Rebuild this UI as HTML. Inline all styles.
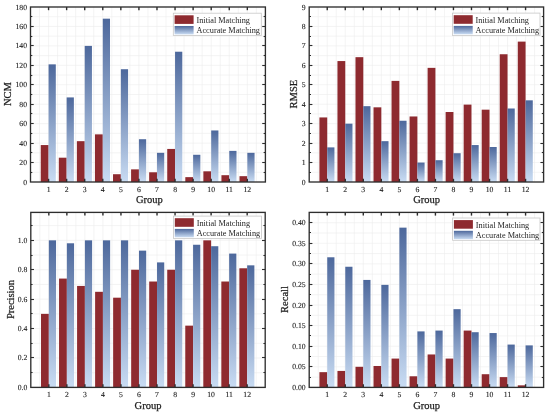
<!DOCTYPE html>
<html><head><meta charset="utf-8"><style>
html,body{margin:0;padding:0;background:#fff;width:550px;height:416px;overflow:hidden}
svg{display:block;will-change:transform;filter:blur(0.3px)}
text{font-family:"Liberation Serif",serif;fill:#1e1e1e}
.t{stroke:#1e1e1e;stroke-width:0.25px}
.k{fill:#1a1a1a;stroke:#1a1a1a;stroke-width:0.1px;text-rendering:geometricPrecision}
</style></head><body>
<svg width="550" height="416" viewBox="0 0 550 416">
<defs><linearGradient id="bg" x1="0" y1="0" x2="0" y2="1"><stop offset="0" stop-color="#4d689c"/><stop offset="1" stop-color="#c9dcf3"/></linearGradient></defs>
<rect width="550" height="416" fill="#fff"/>
<line x1="39.53" y1="7.00" x2="39.53" y2="182.00" stroke="#ececec" stroke-width="0.6"/>
<line x1="48.57" y1="7.00" x2="48.57" y2="182.00" stroke="#ececec" stroke-width="0.6"/>
<line x1="57.60" y1="7.00" x2="57.60" y2="182.00" stroke="#ececec" stroke-width="0.6"/>
<line x1="66.64" y1="7.00" x2="66.64" y2="182.00" stroke="#ececec" stroke-width="0.6"/>
<line x1="75.67" y1="7.00" x2="75.67" y2="182.00" stroke="#ececec" stroke-width="0.6"/>
<line x1="84.71" y1="7.00" x2="84.71" y2="182.00" stroke="#ececec" stroke-width="0.6"/>
<line x1="93.74" y1="7.00" x2="93.74" y2="182.00" stroke="#ececec" stroke-width="0.6"/>
<line x1="102.78" y1="7.00" x2="102.78" y2="182.00" stroke="#ececec" stroke-width="0.6"/>
<line x1="111.81" y1="7.00" x2="111.81" y2="182.00" stroke="#ececec" stroke-width="0.6"/>
<line x1="120.85" y1="7.00" x2="120.85" y2="182.00" stroke="#ececec" stroke-width="0.6"/>
<line x1="129.88" y1="7.00" x2="129.88" y2="182.00" stroke="#ececec" stroke-width="0.6"/>
<line x1="138.92" y1="7.00" x2="138.92" y2="182.00" stroke="#ececec" stroke-width="0.6"/>
<line x1="147.95" y1="7.00" x2="147.95" y2="182.00" stroke="#ececec" stroke-width="0.6"/>
<line x1="156.98" y1="7.00" x2="156.98" y2="182.00" stroke="#ececec" stroke-width="0.6"/>
<line x1="166.02" y1="7.00" x2="166.02" y2="182.00" stroke="#ececec" stroke-width="0.6"/>
<line x1="175.05" y1="7.00" x2="175.05" y2="182.00" stroke="#ececec" stroke-width="0.6"/>
<line x1="184.09" y1="7.00" x2="184.09" y2="182.00" stroke="#ececec" stroke-width="0.6"/>
<line x1="193.12" y1="7.00" x2="193.12" y2="182.00" stroke="#ececec" stroke-width="0.6"/>
<line x1="202.16" y1="7.00" x2="202.16" y2="182.00" stroke="#ececec" stroke-width="0.6"/>
<line x1="211.19" y1="7.00" x2="211.19" y2="182.00" stroke="#ececec" stroke-width="0.6"/>
<line x1="220.23" y1="7.00" x2="220.23" y2="182.00" stroke="#ececec" stroke-width="0.6"/>
<line x1="229.26" y1="7.00" x2="229.26" y2="182.00" stroke="#ececec" stroke-width="0.6"/>
<line x1="238.30" y1="7.00" x2="238.30" y2="182.00" stroke="#ececec" stroke-width="0.6"/>
<line x1="247.33" y1="7.00" x2="247.33" y2="182.00" stroke="#ececec" stroke-width="0.6"/>
<line x1="256.37" y1="7.00" x2="256.37" y2="182.00" stroke="#ececec" stroke-width="0.6"/>
<line x1="30.50" y1="172.28" x2="265.40" y2="172.28" stroke="#ececec" stroke-width="0.6"/>
<line x1="30.50" y1="162.56" x2="265.40" y2="162.56" stroke="#ececec" stroke-width="0.6"/>
<line x1="30.50" y1="152.83" x2="265.40" y2="152.83" stroke="#ececec" stroke-width="0.6"/>
<line x1="30.50" y1="143.11" x2="265.40" y2="143.11" stroke="#ececec" stroke-width="0.6"/>
<line x1="30.50" y1="133.39" x2="265.40" y2="133.39" stroke="#ececec" stroke-width="0.6"/>
<line x1="30.50" y1="123.67" x2="265.40" y2="123.67" stroke="#ececec" stroke-width="0.6"/>
<line x1="30.50" y1="113.94" x2="265.40" y2="113.94" stroke="#ececec" stroke-width="0.6"/>
<line x1="30.50" y1="104.22" x2="265.40" y2="104.22" stroke="#ececec" stroke-width="0.6"/>
<line x1="30.50" y1="94.50" x2="265.40" y2="94.50" stroke="#ececec" stroke-width="0.6"/>
<line x1="30.50" y1="84.78" x2="265.40" y2="84.78" stroke="#ececec" stroke-width="0.6"/>
<line x1="30.50" y1="75.06" x2="265.40" y2="75.06" stroke="#ececec" stroke-width="0.6"/>
<line x1="30.50" y1="65.33" x2="265.40" y2="65.33" stroke="#ececec" stroke-width="0.6"/>
<line x1="30.50" y1="55.61" x2="265.40" y2="55.61" stroke="#ececec" stroke-width="0.6"/>
<line x1="30.50" y1="45.89" x2="265.40" y2="45.89" stroke="#ececec" stroke-width="0.6"/>
<line x1="30.50" y1="36.17" x2="265.40" y2="36.17" stroke="#ececec" stroke-width="0.6"/>
<line x1="30.50" y1="26.44" x2="265.40" y2="26.44" stroke="#ececec" stroke-width="0.6"/>
<line x1="30.50" y1="16.72" x2="265.40" y2="16.72" stroke="#ececec" stroke-width="0.6"/>
<rect x="40.74" y="145.06" width="7.83" height="36.94" fill="#8e2a2f"/>
<rect x="48.57" y="64.36" width="7.23" height="117.64" fill="url(#bg)"/>
<rect x="58.81" y="157.69" width="7.83" height="24.31" fill="#8e2a2f"/>
<rect x="66.64" y="97.42" width="7.23" height="84.58" fill="url(#bg)"/>
<rect x="76.88" y="141.17" width="7.83" height="40.83" fill="#8e2a2f"/>
<rect x="84.71" y="45.89" width="7.23" height="136.11" fill="url(#bg)"/>
<rect x="94.95" y="134.36" width="7.83" height="47.64" fill="#8e2a2f"/>
<rect x="102.78" y="18.67" width="7.23" height="163.33" fill="url(#bg)"/>
<rect x="113.02" y="174.22" width="7.83" height="7.78" fill="#8e2a2f"/>
<rect x="120.85" y="69.22" width="7.23" height="112.78" fill="url(#bg)"/>
<rect x="131.09" y="169.36" width="7.83" height="12.64" fill="#8e2a2f"/>
<rect x="138.92" y="139.22" width="7.23" height="42.78" fill="url(#bg)"/>
<rect x="149.16" y="172.28" width="7.83" height="9.72" fill="#8e2a2f"/>
<rect x="156.98" y="152.83" width="7.23" height="29.17" fill="url(#bg)"/>
<rect x="167.23" y="148.94" width="7.83" height="33.06" fill="#8e2a2f"/>
<rect x="175.05" y="51.72" width="7.23" height="130.28" fill="url(#bg)"/>
<rect x="185.30" y="177.14" width="7.83" height="4.86" fill="#8e2a2f"/>
<rect x="193.12" y="154.78" width="7.23" height="27.22" fill="url(#bg)"/>
<rect x="203.36" y="171.31" width="7.83" height="10.69" fill="#8e2a2f"/>
<rect x="211.19" y="130.47" width="7.23" height="51.53" fill="url(#bg)"/>
<rect x="221.43" y="175.19" width="7.83" height="6.81" fill="#8e2a2f"/>
<rect x="229.26" y="150.89" width="7.23" height="31.11" fill="url(#bg)"/>
<rect x="239.50" y="176.17" width="7.83" height="5.83" fill="#8e2a2f"/>
<rect x="247.33" y="152.83" width="7.23" height="29.17" fill="url(#bg)"/>
<line x1="48.57" y1="7.00" x2="48.57" y2="10.20" stroke="#2e2e2e" stroke-width="1.4"/>
<line x1="48.57" y1="182.00" x2="48.57" y2="178.80" stroke="#2e2e2e" stroke-width="1.4"/>
<line x1="66.64" y1="7.00" x2="66.64" y2="10.20" stroke="#2e2e2e" stroke-width="1.4"/>
<line x1="66.64" y1="182.00" x2="66.64" y2="178.80" stroke="#2e2e2e" stroke-width="1.4"/>
<line x1="84.71" y1="7.00" x2="84.71" y2="10.20" stroke="#2e2e2e" stroke-width="1.4"/>
<line x1="84.71" y1="182.00" x2="84.71" y2="178.80" stroke="#2e2e2e" stroke-width="1.4"/>
<line x1="102.78" y1="7.00" x2="102.78" y2="10.20" stroke="#2e2e2e" stroke-width="1.4"/>
<line x1="102.78" y1="182.00" x2="102.78" y2="178.80" stroke="#2e2e2e" stroke-width="1.4"/>
<line x1="120.85" y1="7.00" x2="120.85" y2="10.20" stroke="#2e2e2e" stroke-width="1.4"/>
<line x1="120.85" y1="182.00" x2="120.85" y2="178.80" stroke="#2e2e2e" stroke-width="1.4"/>
<line x1="138.92" y1="7.00" x2="138.92" y2="10.20" stroke="#2e2e2e" stroke-width="1.4"/>
<line x1="138.92" y1="182.00" x2="138.92" y2="178.80" stroke="#2e2e2e" stroke-width="1.4"/>
<line x1="156.98" y1="7.00" x2="156.98" y2="10.20" stroke="#2e2e2e" stroke-width="1.4"/>
<line x1="156.98" y1="182.00" x2="156.98" y2="178.80" stroke="#2e2e2e" stroke-width="1.4"/>
<line x1="175.05" y1="7.00" x2="175.05" y2="10.20" stroke="#2e2e2e" stroke-width="1.4"/>
<line x1="175.05" y1="182.00" x2="175.05" y2="178.80" stroke="#2e2e2e" stroke-width="1.4"/>
<line x1="193.12" y1="7.00" x2="193.12" y2="10.20" stroke="#2e2e2e" stroke-width="1.4"/>
<line x1="193.12" y1="182.00" x2="193.12" y2="178.80" stroke="#2e2e2e" stroke-width="1.4"/>
<line x1="211.19" y1="7.00" x2="211.19" y2="10.20" stroke="#2e2e2e" stroke-width="1.4"/>
<line x1="211.19" y1="182.00" x2="211.19" y2="178.80" stroke="#2e2e2e" stroke-width="1.4"/>
<line x1="229.26" y1="7.00" x2="229.26" y2="10.20" stroke="#2e2e2e" stroke-width="1.4"/>
<line x1="229.26" y1="182.00" x2="229.26" y2="178.80" stroke="#2e2e2e" stroke-width="1.4"/>
<line x1="247.33" y1="7.00" x2="247.33" y2="10.20" stroke="#2e2e2e" stroke-width="1.4"/>
<line x1="247.33" y1="182.00" x2="247.33" y2="178.80" stroke="#2e2e2e" stroke-width="1.4"/>
<line x1="30.50" y1="172.50" x2="32.30" y2="172.50" stroke="#2e2e2e" stroke-width="1.1"/>
<line x1="265.40" y1="172.50" x2="263.60" y2="172.50" stroke="#2e2e2e" stroke-width="1.1"/>
<line x1="30.50" y1="162.50" x2="33.70" y2="162.50" stroke="#2e2e2e" stroke-width="1.1"/>
<line x1="265.40" y1="162.50" x2="262.20" y2="162.50" stroke="#2e2e2e" stroke-width="1.1"/>
<line x1="30.50" y1="152.50" x2="32.30" y2="152.50" stroke="#2e2e2e" stroke-width="1.1"/>
<line x1="265.40" y1="152.50" x2="263.60" y2="152.50" stroke="#2e2e2e" stroke-width="1.1"/>
<line x1="30.50" y1="143.50" x2="33.70" y2="143.50" stroke="#2e2e2e" stroke-width="1.1"/>
<line x1="265.40" y1="143.50" x2="262.20" y2="143.50" stroke="#2e2e2e" stroke-width="1.1"/>
<line x1="30.50" y1="133.50" x2="32.30" y2="133.50" stroke="#2e2e2e" stroke-width="1.1"/>
<line x1="265.40" y1="133.50" x2="263.60" y2="133.50" stroke="#2e2e2e" stroke-width="1.1"/>
<line x1="30.50" y1="123.50" x2="33.70" y2="123.50" stroke="#2e2e2e" stroke-width="1.1"/>
<line x1="265.40" y1="123.50" x2="262.20" y2="123.50" stroke="#2e2e2e" stroke-width="1.1"/>
<line x1="30.50" y1="113.50" x2="32.30" y2="113.50" stroke="#2e2e2e" stroke-width="1.1"/>
<line x1="265.40" y1="113.50" x2="263.60" y2="113.50" stroke="#2e2e2e" stroke-width="1.1"/>
<line x1="30.50" y1="104.50" x2="33.70" y2="104.50" stroke="#2e2e2e" stroke-width="1.1"/>
<line x1="265.40" y1="104.50" x2="262.20" y2="104.50" stroke="#2e2e2e" stroke-width="1.1"/>
<line x1="30.50" y1="94.50" x2="32.30" y2="94.50" stroke="#2e2e2e" stroke-width="1.1"/>
<line x1="265.40" y1="94.50" x2="263.60" y2="94.50" stroke="#2e2e2e" stroke-width="1.1"/>
<line x1="30.50" y1="84.50" x2="33.70" y2="84.50" stroke="#2e2e2e" stroke-width="1.1"/>
<line x1="265.40" y1="84.50" x2="262.20" y2="84.50" stroke="#2e2e2e" stroke-width="1.1"/>
<line x1="30.50" y1="75.50" x2="32.30" y2="75.50" stroke="#2e2e2e" stroke-width="1.1"/>
<line x1="265.40" y1="75.50" x2="263.60" y2="75.50" stroke="#2e2e2e" stroke-width="1.1"/>
<line x1="30.50" y1="65.50" x2="33.70" y2="65.50" stroke="#2e2e2e" stroke-width="1.1"/>
<line x1="265.40" y1="65.50" x2="262.20" y2="65.50" stroke="#2e2e2e" stroke-width="1.1"/>
<line x1="30.50" y1="55.50" x2="32.30" y2="55.50" stroke="#2e2e2e" stroke-width="1.1"/>
<line x1="265.40" y1="55.50" x2="263.60" y2="55.50" stroke="#2e2e2e" stroke-width="1.1"/>
<line x1="30.50" y1="45.50" x2="33.70" y2="45.50" stroke="#2e2e2e" stroke-width="1.1"/>
<line x1="265.40" y1="45.50" x2="262.20" y2="45.50" stroke="#2e2e2e" stroke-width="1.1"/>
<line x1="30.50" y1="36.50" x2="32.30" y2="36.50" stroke="#2e2e2e" stroke-width="1.1"/>
<line x1="265.40" y1="36.50" x2="263.60" y2="36.50" stroke="#2e2e2e" stroke-width="1.1"/>
<line x1="30.50" y1="26.50" x2="33.70" y2="26.50" stroke="#2e2e2e" stroke-width="1.1"/>
<line x1="265.40" y1="26.50" x2="262.20" y2="26.50" stroke="#2e2e2e" stroke-width="1.1"/>
<line x1="30.50" y1="16.50" x2="32.30" y2="16.50" stroke="#2e2e2e" stroke-width="1.1"/>
<line x1="265.40" y1="16.50" x2="263.60" y2="16.50" stroke="#2e2e2e" stroke-width="1.1"/>
<rect x="30.50" y="7.00" width="234.90" height="175.00" fill="none" stroke="#2e2e2e" stroke-width="1.35"/>
<text x="27.00" y="184.50" font-size="7.70" text-anchor="end" class="k">0</text>
<text x="27.00" y="165.06" font-size="7.70" text-anchor="end" class="k">20</text>
<text x="27.00" y="145.61" font-size="7.70" text-anchor="end" class="k">40</text>
<text x="27.00" y="126.17" font-size="7.70" text-anchor="end" class="k">60</text>
<text x="27.00" y="106.72" font-size="7.70" text-anchor="end" class="k">80</text>
<text x="27.00" y="87.28" font-size="7.70" text-anchor="end" class="k">100</text>
<text x="27.00" y="67.83" font-size="7.70" text-anchor="end" class="k">120</text>
<text x="27.00" y="48.39" font-size="7.70" text-anchor="end" class="k">140</text>
<text x="27.00" y="28.94" font-size="7.70" text-anchor="end" class="k">160</text>
<text x="27.00" y="9.50" font-size="7.70" text-anchor="end" class="k">180</text>
<text x="48.57" y="191.80" font-size="7.70" text-anchor="middle" class="k">1</text>
<text x="66.64" y="191.80" font-size="7.70" text-anchor="middle" class="k">2</text>
<text x="84.71" y="191.80" font-size="7.70" text-anchor="middle" class="k">3</text>
<text x="102.78" y="191.80" font-size="7.70" text-anchor="middle" class="k">4</text>
<text x="120.85" y="191.80" font-size="7.70" text-anchor="middle" class="k">5</text>
<text x="138.92" y="191.80" font-size="7.70" text-anchor="middle" class="k">6</text>
<text x="156.98" y="191.80" font-size="7.70" text-anchor="middle" class="k">7</text>
<text x="175.05" y="191.80" font-size="7.70" text-anchor="middle" class="k">8</text>
<text x="193.12" y="191.80" font-size="7.70" text-anchor="middle" class="k">9</text>
<text x="211.19" y="191.80" font-size="7.70" text-anchor="middle" class="k">10</text>
<text x="229.26" y="191.80" font-size="7.70" text-anchor="middle" class="k">11</text>
<text x="247.33" y="191.80" font-size="7.70" text-anchor="middle" class="k">12</text>
<text x="149.45" y="203.20" font-size="10.50" text-anchor="middle" class="t">Group</text>
<text x="11.50" y="94.10" font-size="10.50" text-anchor="middle" class="t" transform="rotate(-90 11.50 94.10)">NCM</text>
<rect x="173.30" y="13.20" width="88.00" height="22.3" fill="#fff" stroke="#c8c8c8" stroke-width="0.8"/>
<rect x="174.60" y="15.30" width="19" height="8.6" fill="#8e2a2f"/>
<rect x="174.60" y="26.00" width="19" height="8.4" fill="url(#bg)"/>
<text x="196.50" y="22.80" font-size="8.25">Initial Matching</text>
<text x="196.50" y="33.20" font-size="8.25">Accurate Matching</text>
<line x1="318.22" y1="7.00" x2="318.22" y2="182.00" stroke="#ececec" stroke-width="0.6"/>
<line x1="327.23" y1="7.00" x2="327.23" y2="182.00" stroke="#ececec" stroke-width="0.6"/>
<line x1="336.25" y1="7.00" x2="336.25" y2="182.00" stroke="#ececec" stroke-width="0.6"/>
<line x1="345.26" y1="7.00" x2="345.26" y2="182.00" stroke="#ececec" stroke-width="0.6"/>
<line x1="354.28" y1="7.00" x2="354.28" y2="182.00" stroke="#ececec" stroke-width="0.6"/>
<line x1="363.29" y1="7.00" x2="363.29" y2="182.00" stroke="#ececec" stroke-width="0.6"/>
<line x1="372.31" y1="7.00" x2="372.31" y2="182.00" stroke="#ececec" stroke-width="0.6"/>
<line x1="381.32" y1="7.00" x2="381.32" y2="182.00" stroke="#ececec" stroke-width="0.6"/>
<line x1="390.34" y1="7.00" x2="390.34" y2="182.00" stroke="#ececec" stroke-width="0.6"/>
<line x1="399.35" y1="7.00" x2="399.35" y2="182.00" stroke="#ececec" stroke-width="0.6"/>
<line x1="408.37" y1="7.00" x2="408.37" y2="182.00" stroke="#ececec" stroke-width="0.6"/>
<line x1="417.38" y1="7.00" x2="417.38" y2="182.00" stroke="#ececec" stroke-width="0.6"/>
<line x1="426.40" y1="7.00" x2="426.40" y2="182.00" stroke="#ececec" stroke-width="0.6"/>
<line x1="435.42" y1="7.00" x2="435.42" y2="182.00" stroke="#ececec" stroke-width="0.6"/>
<line x1="444.43" y1="7.00" x2="444.43" y2="182.00" stroke="#ececec" stroke-width="0.6"/>
<line x1="453.45" y1="7.00" x2="453.45" y2="182.00" stroke="#ececec" stroke-width="0.6"/>
<line x1="462.46" y1="7.00" x2="462.46" y2="182.00" stroke="#ececec" stroke-width="0.6"/>
<line x1="471.48" y1="7.00" x2="471.48" y2="182.00" stroke="#ececec" stroke-width="0.6"/>
<line x1="480.49" y1="7.00" x2="480.49" y2="182.00" stroke="#ececec" stroke-width="0.6"/>
<line x1="489.51" y1="7.00" x2="489.51" y2="182.00" stroke="#ececec" stroke-width="0.6"/>
<line x1="498.52" y1="7.00" x2="498.52" y2="182.00" stroke="#ececec" stroke-width="0.6"/>
<line x1="507.54" y1="7.00" x2="507.54" y2="182.00" stroke="#ececec" stroke-width="0.6"/>
<line x1="516.55" y1="7.00" x2="516.55" y2="182.00" stroke="#ececec" stroke-width="0.6"/>
<line x1="525.57" y1="7.00" x2="525.57" y2="182.00" stroke="#ececec" stroke-width="0.6"/>
<line x1="534.58" y1="7.00" x2="534.58" y2="182.00" stroke="#ececec" stroke-width="0.6"/>
<line x1="309.20" y1="172.28" x2="543.60" y2="172.28" stroke="#ececec" stroke-width="0.6"/>
<line x1="309.20" y1="162.56" x2="543.60" y2="162.56" stroke="#ececec" stroke-width="0.6"/>
<line x1="309.20" y1="152.83" x2="543.60" y2="152.83" stroke="#ececec" stroke-width="0.6"/>
<line x1="309.20" y1="143.11" x2="543.60" y2="143.11" stroke="#ececec" stroke-width="0.6"/>
<line x1="309.20" y1="133.39" x2="543.60" y2="133.39" stroke="#ececec" stroke-width="0.6"/>
<line x1="309.20" y1="123.67" x2="543.60" y2="123.67" stroke="#ececec" stroke-width="0.6"/>
<line x1="309.20" y1="113.94" x2="543.60" y2="113.94" stroke="#ececec" stroke-width="0.6"/>
<line x1="309.20" y1="104.22" x2="543.60" y2="104.22" stroke="#ececec" stroke-width="0.6"/>
<line x1="309.20" y1="94.50" x2="543.60" y2="94.50" stroke="#ececec" stroke-width="0.6"/>
<line x1="309.20" y1="84.78" x2="543.60" y2="84.78" stroke="#ececec" stroke-width="0.6"/>
<line x1="309.20" y1="75.06" x2="543.60" y2="75.06" stroke="#ececec" stroke-width="0.6"/>
<line x1="309.20" y1="65.33" x2="543.60" y2="65.33" stroke="#ececec" stroke-width="0.6"/>
<line x1="309.20" y1="55.61" x2="543.60" y2="55.61" stroke="#ececec" stroke-width="0.6"/>
<line x1="309.20" y1="45.89" x2="543.60" y2="45.89" stroke="#ececec" stroke-width="0.6"/>
<line x1="309.20" y1="36.17" x2="543.60" y2="36.17" stroke="#ececec" stroke-width="0.6"/>
<line x1="309.20" y1="26.44" x2="543.60" y2="26.44" stroke="#ececec" stroke-width="0.6"/>
<line x1="309.20" y1="16.72" x2="543.60" y2="16.72" stroke="#ececec" stroke-width="0.6"/>
<rect x="319.42" y="117.44" width="7.81" height="64.56" fill="#8e2a2f"/>
<rect x="327.23" y="147.39" width="7.21" height="34.61" fill="url(#bg)"/>
<rect x="337.45" y="61.06" width="7.81" height="120.94" fill="#8e2a2f"/>
<rect x="345.26" y="123.67" width="7.21" height="58.33" fill="url(#bg)"/>
<rect x="355.48" y="57.17" width="7.81" height="124.83" fill="#8e2a2f"/>
<rect x="363.29" y="106.17" width="7.21" height="75.83" fill="url(#bg)"/>
<rect x="373.51" y="107.33" width="7.81" height="74.67" fill="#8e2a2f"/>
<rect x="381.32" y="141.17" width="7.21" height="40.83" fill="url(#bg)"/>
<rect x="391.54" y="80.89" width="7.81" height="101.11" fill="#8e2a2f"/>
<rect x="399.35" y="120.75" width="7.21" height="61.25" fill="url(#bg)"/>
<rect x="409.57" y="116.47" width="7.81" height="65.53" fill="#8e2a2f"/>
<rect x="417.38" y="162.56" width="7.21" height="19.44" fill="url(#bg)"/>
<rect x="427.60" y="67.86" width="7.81" height="114.14" fill="#8e2a2f"/>
<rect x="435.42" y="160.22" width="7.21" height="21.78" fill="url(#bg)"/>
<rect x="445.63" y="112.00" width="7.81" height="70.00" fill="#8e2a2f"/>
<rect x="453.45" y="153.22" width="7.21" height="28.78" fill="url(#bg)"/>
<rect x="463.66" y="104.61" width="7.81" height="77.39" fill="#8e2a2f"/>
<rect x="471.48" y="145.06" width="7.21" height="36.94" fill="url(#bg)"/>
<rect x="481.70" y="109.67" width="7.81" height="72.33" fill="#8e2a2f"/>
<rect x="489.51" y="147.00" width="7.21" height="35.00" fill="url(#bg)"/>
<rect x="499.73" y="54.25" width="7.81" height="127.75" fill="#8e2a2f"/>
<rect x="507.54" y="108.50" width="7.21" height="73.50" fill="url(#bg)"/>
<rect x="517.76" y="41.61" width="7.81" height="140.39" fill="#8e2a2f"/>
<rect x="525.57" y="100.33" width="7.21" height="81.67" fill="url(#bg)"/>
<line x1="327.23" y1="7.00" x2="327.23" y2="10.20" stroke="#2e2e2e" stroke-width="1.4"/>
<line x1="327.23" y1="182.00" x2="327.23" y2="178.80" stroke="#2e2e2e" stroke-width="1.4"/>
<line x1="345.26" y1="7.00" x2="345.26" y2="10.20" stroke="#2e2e2e" stroke-width="1.4"/>
<line x1="345.26" y1="182.00" x2="345.26" y2="178.80" stroke="#2e2e2e" stroke-width="1.4"/>
<line x1="363.29" y1="7.00" x2="363.29" y2="10.20" stroke="#2e2e2e" stroke-width="1.4"/>
<line x1="363.29" y1="182.00" x2="363.29" y2="178.80" stroke="#2e2e2e" stroke-width="1.4"/>
<line x1="381.32" y1="7.00" x2="381.32" y2="10.20" stroke="#2e2e2e" stroke-width="1.4"/>
<line x1="381.32" y1="182.00" x2="381.32" y2="178.80" stroke="#2e2e2e" stroke-width="1.4"/>
<line x1="399.35" y1="7.00" x2="399.35" y2="10.20" stroke="#2e2e2e" stroke-width="1.4"/>
<line x1="399.35" y1="182.00" x2="399.35" y2="178.80" stroke="#2e2e2e" stroke-width="1.4"/>
<line x1="417.38" y1="7.00" x2="417.38" y2="10.20" stroke="#2e2e2e" stroke-width="1.4"/>
<line x1="417.38" y1="182.00" x2="417.38" y2="178.80" stroke="#2e2e2e" stroke-width="1.4"/>
<line x1="435.42" y1="7.00" x2="435.42" y2="10.20" stroke="#2e2e2e" stroke-width="1.4"/>
<line x1="435.42" y1="182.00" x2="435.42" y2="178.80" stroke="#2e2e2e" stroke-width="1.4"/>
<line x1="453.45" y1="7.00" x2="453.45" y2="10.20" stroke="#2e2e2e" stroke-width="1.4"/>
<line x1="453.45" y1="182.00" x2="453.45" y2="178.80" stroke="#2e2e2e" stroke-width="1.4"/>
<line x1="471.48" y1="7.00" x2="471.48" y2="10.20" stroke="#2e2e2e" stroke-width="1.4"/>
<line x1="471.48" y1="182.00" x2="471.48" y2="178.80" stroke="#2e2e2e" stroke-width="1.4"/>
<line x1="489.51" y1="7.00" x2="489.51" y2="10.20" stroke="#2e2e2e" stroke-width="1.4"/>
<line x1="489.51" y1="182.00" x2="489.51" y2="178.80" stroke="#2e2e2e" stroke-width="1.4"/>
<line x1="507.54" y1="7.00" x2="507.54" y2="10.20" stroke="#2e2e2e" stroke-width="1.4"/>
<line x1="507.54" y1="182.00" x2="507.54" y2="178.80" stroke="#2e2e2e" stroke-width="1.4"/>
<line x1="525.57" y1="7.00" x2="525.57" y2="10.20" stroke="#2e2e2e" stroke-width="1.4"/>
<line x1="525.57" y1="182.00" x2="525.57" y2="178.80" stroke="#2e2e2e" stroke-width="1.4"/>
<line x1="309.20" y1="172.50" x2="311.00" y2="172.50" stroke="#2e2e2e" stroke-width="1.1"/>
<line x1="543.60" y1="172.50" x2="541.80" y2="172.50" stroke="#2e2e2e" stroke-width="1.1"/>
<line x1="309.20" y1="162.50" x2="312.40" y2="162.50" stroke="#2e2e2e" stroke-width="1.1"/>
<line x1="543.60" y1="162.50" x2="540.40" y2="162.50" stroke="#2e2e2e" stroke-width="1.1"/>
<line x1="309.20" y1="152.50" x2="311.00" y2="152.50" stroke="#2e2e2e" stroke-width="1.1"/>
<line x1="543.60" y1="152.50" x2="541.80" y2="152.50" stroke="#2e2e2e" stroke-width="1.1"/>
<line x1="309.20" y1="143.50" x2="312.40" y2="143.50" stroke="#2e2e2e" stroke-width="1.1"/>
<line x1="543.60" y1="143.50" x2="540.40" y2="143.50" stroke="#2e2e2e" stroke-width="1.1"/>
<line x1="309.20" y1="133.50" x2="311.00" y2="133.50" stroke="#2e2e2e" stroke-width="1.1"/>
<line x1="543.60" y1="133.50" x2="541.80" y2="133.50" stroke="#2e2e2e" stroke-width="1.1"/>
<line x1="309.20" y1="123.50" x2="312.40" y2="123.50" stroke="#2e2e2e" stroke-width="1.1"/>
<line x1="543.60" y1="123.50" x2="540.40" y2="123.50" stroke="#2e2e2e" stroke-width="1.1"/>
<line x1="309.20" y1="113.50" x2="311.00" y2="113.50" stroke="#2e2e2e" stroke-width="1.1"/>
<line x1="543.60" y1="113.50" x2="541.80" y2="113.50" stroke="#2e2e2e" stroke-width="1.1"/>
<line x1="309.20" y1="104.50" x2="312.40" y2="104.50" stroke="#2e2e2e" stroke-width="1.1"/>
<line x1="543.60" y1="104.50" x2="540.40" y2="104.50" stroke="#2e2e2e" stroke-width="1.1"/>
<line x1="309.20" y1="94.50" x2="311.00" y2="94.50" stroke="#2e2e2e" stroke-width="1.1"/>
<line x1="543.60" y1="94.50" x2="541.80" y2="94.50" stroke="#2e2e2e" stroke-width="1.1"/>
<line x1="309.20" y1="84.50" x2="312.40" y2="84.50" stroke="#2e2e2e" stroke-width="1.1"/>
<line x1="543.60" y1="84.50" x2="540.40" y2="84.50" stroke="#2e2e2e" stroke-width="1.1"/>
<line x1="309.20" y1="75.50" x2="311.00" y2="75.50" stroke="#2e2e2e" stroke-width="1.1"/>
<line x1="543.60" y1="75.50" x2="541.80" y2="75.50" stroke="#2e2e2e" stroke-width="1.1"/>
<line x1="309.20" y1="65.50" x2="312.40" y2="65.50" stroke="#2e2e2e" stroke-width="1.1"/>
<line x1="543.60" y1="65.50" x2="540.40" y2="65.50" stroke="#2e2e2e" stroke-width="1.1"/>
<line x1="309.20" y1="55.50" x2="311.00" y2="55.50" stroke="#2e2e2e" stroke-width="1.1"/>
<line x1="543.60" y1="55.50" x2="541.80" y2="55.50" stroke="#2e2e2e" stroke-width="1.1"/>
<line x1="309.20" y1="45.50" x2="312.40" y2="45.50" stroke="#2e2e2e" stroke-width="1.1"/>
<line x1="543.60" y1="45.50" x2="540.40" y2="45.50" stroke="#2e2e2e" stroke-width="1.1"/>
<line x1="309.20" y1="36.50" x2="311.00" y2="36.50" stroke="#2e2e2e" stroke-width="1.1"/>
<line x1="543.60" y1="36.50" x2="541.80" y2="36.50" stroke="#2e2e2e" stroke-width="1.1"/>
<line x1="309.20" y1="26.50" x2="312.40" y2="26.50" stroke="#2e2e2e" stroke-width="1.1"/>
<line x1="543.60" y1="26.50" x2="540.40" y2="26.50" stroke="#2e2e2e" stroke-width="1.1"/>
<line x1="309.20" y1="16.50" x2="311.00" y2="16.50" stroke="#2e2e2e" stroke-width="1.1"/>
<line x1="543.60" y1="16.50" x2="541.80" y2="16.50" stroke="#2e2e2e" stroke-width="1.1"/>
<rect x="309.20" y="7.00" width="234.40" height="175.00" fill="none" stroke="#2e2e2e" stroke-width="1.35"/>
<text x="305.70" y="184.50" font-size="7.70" text-anchor="end" class="k">0</text>
<text x="305.70" y="165.06" font-size="7.70" text-anchor="end" class="k">1</text>
<text x="305.70" y="145.61" font-size="7.70" text-anchor="end" class="k">2</text>
<text x="305.70" y="126.17" font-size="7.70" text-anchor="end" class="k">3</text>
<text x="305.70" y="106.72" font-size="7.70" text-anchor="end" class="k">4</text>
<text x="305.70" y="87.28" font-size="7.70" text-anchor="end" class="k">5</text>
<text x="305.70" y="67.83" font-size="7.70" text-anchor="end" class="k">6</text>
<text x="305.70" y="48.39" font-size="7.70" text-anchor="end" class="k">7</text>
<text x="305.70" y="28.94" font-size="7.70" text-anchor="end" class="k">8</text>
<text x="305.70" y="9.50" font-size="7.70" text-anchor="end" class="k">9</text>
<text x="327.23" y="191.80" font-size="7.70" text-anchor="middle" class="k">1</text>
<text x="345.26" y="191.80" font-size="7.70" text-anchor="middle" class="k">2</text>
<text x="363.29" y="191.80" font-size="7.70" text-anchor="middle" class="k">3</text>
<text x="381.32" y="191.80" font-size="7.70" text-anchor="middle" class="k">4</text>
<text x="399.35" y="191.80" font-size="7.70" text-anchor="middle" class="k">5</text>
<text x="417.38" y="191.80" font-size="7.70" text-anchor="middle" class="k">6</text>
<text x="435.42" y="191.80" font-size="7.70" text-anchor="middle" class="k">7</text>
<text x="453.45" y="191.80" font-size="7.70" text-anchor="middle" class="k">8</text>
<text x="471.48" y="191.80" font-size="7.70" text-anchor="middle" class="k">9</text>
<text x="489.51" y="191.80" font-size="7.70" text-anchor="middle" class="k">10</text>
<text x="507.54" y="191.80" font-size="7.70" text-anchor="middle" class="k">11</text>
<text x="525.57" y="191.80" font-size="7.70" text-anchor="middle" class="k">12</text>
<text x="426.60" y="203.20" font-size="10.50" text-anchor="middle" class="t">Group</text>
<text x="297.40" y="94.10" font-size="10.50" text-anchor="middle" class="t" transform="rotate(-90 297.40 94.10)">RMSE</text>
<rect x="452.40" y="13.10" width="87.60" height="22.3" fill="#fff" stroke="#c8c8c8" stroke-width="0.8"/>
<rect x="453.70" y="15.20" width="19" height="8.6" fill="#8e2a2f"/>
<rect x="453.70" y="25.90" width="19" height="8.4" fill="url(#bg)"/>
<text x="475.60" y="22.70" font-size="8.25">Initial Matching</text>
<text x="475.60" y="33.10" font-size="8.25">Accurate Matching</text>
<line x1="39.82" y1="212.40" x2="39.82" y2="387.40" stroke="#ececec" stroke-width="0.6"/>
<line x1="48.83" y1="212.40" x2="48.83" y2="387.40" stroke="#ececec" stroke-width="0.6"/>
<line x1="57.85" y1="212.40" x2="57.85" y2="387.40" stroke="#ececec" stroke-width="0.6"/>
<line x1="66.86" y1="212.40" x2="66.86" y2="387.40" stroke="#ececec" stroke-width="0.6"/>
<line x1="75.88" y1="212.40" x2="75.88" y2="387.40" stroke="#ececec" stroke-width="0.6"/>
<line x1="84.89" y1="212.40" x2="84.89" y2="387.40" stroke="#ececec" stroke-width="0.6"/>
<line x1="93.91" y1="212.40" x2="93.91" y2="387.40" stroke="#ececec" stroke-width="0.6"/>
<line x1="102.92" y1="212.40" x2="102.92" y2="387.40" stroke="#ececec" stroke-width="0.6"/>
<line x1="111.94" y1="212.40" x2="111.94" y2="387.40" stroke="#ececec" stroke-width="0.6"/>
<line x1="120.95" y1="212.40" x2="120.95" y2="387.40" stroke="#ececec" stroke-width="0.6"/>
<line x1="129.97" y1="212.40" x2="129.97" y2="387.40" stroke="#ececec" stroke-width="0.6"/>
<line x1="138.98" y1="212.40" x2="138.98" y2="387.40" stroke="#ececec" stroke-width="0.6"/>
<line x1="148.00" y1="212.40" x2="148.00" y2="387.40" stroke="#ececec" stroke-width="0.6"/>
<line x1="157.02" y1="212.40" x2="157.02" y2="387.40" stroke="#ececec" stroke-width="0.6"/>
<line x1="166.03" y1="212.40" x2="166.03" y2="387.40" stroke="#ececec" stroke-width="0.6"/>
<line x1="175.05" y1="212.40" x2="175.05" y2="387.40" stroke="#ececec" stroke-width="0.6"/>
<line x1="184.06" y1="212.40" x2="184.06" y2="387.40" stroke="#ececec" stroke-width="0.6"/>
<line x1="193.08" y1="212.40" x2="193.08" y2="387.40" stroke="#ececec" stroke-width="0.6"/>
<line x1="202.09" y1="212.40" x2="202.09" y2="387.40" stroke="#ececec" stroke-width="0.6"/>
<line x1="211.11" y1="212.40" x2="211.11" y2="387.40" stroke="#ececec" stroke-width="0.6"/>
<line x1="220.12" y1="212.40" x2="220.12" y2="387.40" stroke="#ececec" stroke-width="0.6"/>
<line x1="229.14" y1="212.40" x2="229.14" y2="387.40" stroke="#ececec" stroke-width="0.6"/>
<line x1="238.15" y1="212.40" x2="238.15" y2="387.40" stroke="#ececec" stroke-width="0.6"/>
<line x1="247.17" y1="212.40" x2="247.17" y2="387.40" stroke="#ececec" stroke-width="0.6"/>
<line x1="256.18" y1="212.40" x2="256.18" y2="387.40" stroke="#ececec" stroke-width="0.6"/>
<line x1="30.80" y1="372.69" x2="265.20" y2="372.69" stroke="#ececec" stroke-width="0.6"/>
<line x1="30.80" y1="357.99" x2="265.20" y2="357.99" stroke="#ececec" stroke-width="0.6"/>
<line x1="30.80" y1="343.28" x2="265.20" y2="343.28" stroke="#ececec" stroke-width="0.6"/>
<line x1="30.80" y1="328.58" x2="265.20" y2="328.58" stroke="#ececec" stroke-width="0.6"/>
<line x1="30.80" y1="313.87" x2="265.20" y2="313.87" stroke="#ececec" stroke-width="0.6"/>
<line x1="30.80" y1="299.16" x2="265.20" y2="299.16" stroke="#ececec" stroke-width="0.6"/>
<line x1="30.80" y1="284.46" x2="265.20" y2="284.46" stroke="#ececec" stroke-width="0.6"/>
<line x1="30.80" y1="269.75" x2="265.20" y2="269.75" stroke="#ececec" stroke-width="0.6"/>
<line x1="30.80" y1="255.05" x2="265.20" y2="255.05" stroke="#ececec" stroke-width="0.6"/>
<line x1="30.80" y1="240.34" x2="265.20" y2="240.34" stroke="#ececec" stroke-width="0.6"/>
<line x1="30.80" y1="225.64" x2="265.20" y2="225.64" stroke="#ececec" stroke-width="0.6"/>
<rect x="41.02" y="313.87" width="7.81" height="73.53" fill="#8e2a2f"/>
<rect x="48.83" y="240.34" width="7.21" height="147.06" fill="url(#bg)"/>
<rect x="59.05" y="278.58" width="7.81" height="108.82" fill="#8e2a2f"/>
<rect x="66.86" y="243.28" width="7.21" height="144.12" fill="url(#bg)"/>
<rect x="77.08" y="285.93" width="7.81" height="101.47" fill="#8e2a2f"/>
<rect x="84.89" y="240.34" width="7.21" height="147.06" fill="url(#bg)"/>
<rect x="95.11" y="291.81" width="7.81" height="95.59" fill="#8e2a2f"/>
<rect x="102.92" y="240.34" width="7.21" height="147.06" fill="url(#bg)"/>
<rect x="113.14" y="297.69" width="7.81" height="89.71" fill="#8e2a2f"/>
<rect x="120.95" y="240.34" width="7.21" height="147.06" fill="url(#bg)"/>
<rect x="131.17" y="269.75" width="7.81" height="117.65" fill="#8e2a2f"/>
<rect x="138.98" y="250.64" width="7.21" height="136.76" fill="url(#bg)"/>
<rect x="149.20" y="281.52" width="7.81" height="105.88" fill="#8e2a2f"/>
<rect x="157.02" y="262.40" width="7.21" height="125.00" fill="url(#bg)"/>
<rect x="167.23" y="269.75" width="7.81" height="117.65" fill="#8e2a2f"/>
<rect x="175.05" y="240.34" width="7.21" height="147.06" fill="url(#bg)"/>
<rect x="185.26" y="325.64" width="7.81" height="61.76" fill="#8e2a2f"/>
<rect x="193.08" y="244.75" width="7.21" height="142.65" fill="url(#bg)"/>
<rect x="203.30" y="240.34" width="7.81" height="147.06" fill="#8e2a2f"/>
<rect x="211.11" y="246.22" width="7.21" height="141.18" fill="url(#bg)"/>
<rect x="221.33" y="281.52" width="7.81" height="105.88" fill="#8e2a2f"/>
<rect x="229.14" y="253.58" width="7.21" height="133.82" fill="url(#bg)"/>
<rect x="239.36" y="268.28" width="7.81" height="119.12" fill="#8e2a2f"/>
<rect x="247.17" y="265.34" width="7.21" height="122.06" fill="url(#bg)"/>
<line x1="48.83" y1="212.40" x2="48.83" y2="215.60" stroke="#2e2e2e" stroke-width="1.4"/>
<line x1="48.83" y1="387.40" x2="48.83" y2="384.20" stroke="#2e2e2e" stroke-width="1.4"/>
<line x1="66.86" y1="212.40" x2="66.86" y2="215.60" stroke="#2e2e2e" stroke-width="1.4"/>
<line x1="66.86" y1="387.40" x2="66.86" y2="384.20" stroke="#2e2e2e" stroke-width="1.4"/>
<line x1="84.89" y1="212.40" x2="84.89" y2="215.60" stroke="#2e2e2e" stroke-width="1.4"/>
<line x1="84.89" y1="387.40" x2="84.89" y2="384.20" stroke="#2e2e2e" stroke-width="1.4"/>
<line x1="102.92" y1="212.40" x2="102.92" y2="215.60" stroke="#2e2e2e" stroke-width="1.4"/>
<line x1="102.92" y1="387.40" x2="102.92" y2="384.20" stroke="#2e2e2e" stroke-width="1.4"/>
<line x1="120.95" y1="212.40" x2="120.95" y2="215.60" stroke="#2e2e2e" stroke-width="1.4"/>
<line x1="120.95" y1="387.40" x2="120.95" y2="384.20" stroke="#2e2e2e" stroke-width="1.4"/>
<line x1="138.98" y1="212.40" x2="138.98" y2="215.60" stroke="#2e2e2e" stroke-width="1.4"/>
<line x1="138.98" y1="387.40" x2="138.98" y2="384.20" stroke="#2e2e2e" stroke-width="1.4"/>
<line x1="157.02" y1="212.40" x2="157.02" y2="215.60" stroke="#2e2e2e" stroke-width="1.4"/>
<line x1="157.02" y1="387.40" x2="157.02" y2="384.20" stroke="#2e2e2e" stroke-width="1.4"/>
<line x1="175.05" y1="212.40" x2="175.05" y2="215.60" stroke="#2e2e2e" stroke-width="1.4"/>
<line x1="175.05" y1="387.40" x2="175.05" y2="384.20" stroke="#2e2e2e" stroke-width="1.4"/>
<line x1="193.08" y1="212.40" x2="193.08" y2="215.60" stroke="#2e2e2e" stroke-width="1.4"/>
<line x1="193.08" y1="387.40" x2="193.08" y2="384.20" stroke="#2e2e2e" stroke-width="1.4"/>
<line x1="211.11" y1="212.40" x2="211.11" y2="215.60" stroke="#2e2e2e" stroke-width="1.4"/>
<line x1="211.11" y1="387.40" x2="211.11" y2="384.20" stroke="#2e2e2e" stroke-width="1.4"/>
<line x1="229.14" y1="212.40" x2="229.14" y2="215.60" stroke="#2e2e2e" stroke-width="1.4"/>
<line x1="229.14" y1="387.40" x2="229.14" y2="384.20" stroke="#2e2e2e" stroke-width="1.4"/>
<line x1="247.17" y1="212.40" x2="247.17" y2="215.60" stroke="#2e2e2e" stroke-width="1.4"/>
<line x1="247.17" y1="387.40" x2="247.17" y2="384.20" stroke="#2e2e2e" stroke-width="1.4"/>
<line x1="30.80" y1="372.50" x2="32.60" y2="372.50" stroke="#2e2e2e" stroke-width="1.1"/>
<line x1="265.20" y1="372.50" x2="263.40" y2="372.50" stroke="#2e2e2e" stroke-width="1.1"/>
<line x1="30.80" y1="357.50" x2="34.00" y2="357.50" stroke="#2e2e2e" stroke-width="1.1"/>
<line x1="265.20" y1="357.50" x2="262.00" y2="357.50" stroke="#2e2e2e" stroke-width="1.1"/>
<line x1="30.80" y1="343.50" x2="32.60" y2="343.50" stroke="#2e2e2e" stroke-width="1.1"/>
<line x1="265.20" y1="343.50" x2="263.40" y2="343.50" stroke="#2e2e2e" stroke-width="1.1"/>
<line x1="30.80" y1="328.50" x2="34.00" y2="328.50" stroke="#2e2e2e" stroke-width="1.1"/>
<line x1="265.20" y1="328.50" x2="262.00" y2="328.50" stroke="#2e2e2e" stroke-width="1.1"/>
<line x1="30.80" y1="313.50" x2="32.60" y2="313.50" stroke="#2e2e2e" stroke-width="1.1"/>
<line x1="265.20" y1="313.50" x2="263.40" y2="313.50" stroke="#2e2e2e" stroke-width="1.1"/>
<line x1="30.80" y1="299.50" x2="34.00" y2="299.50" stroke="#2e2e2e" stroke-width="1.1"/>
<line x1="265.20" y1="299.50" x2="262.00" y2="299.50" stroke="#2e2e2e" stroke-width="1.1"/>
<line x1="30.80" y1="284.50" x2="32.60" y2="284.50" stroke="#2e2e2e" stroke-width="1.1"/>
<line x1="265.20" y1="284.50" x2="263.40" y2="284.50" stroke="#2e2e2e" stroke-width="1.1"/>
<line x1="30.80" y1="269.50" x2="34.00" y2="269.50" stroke="#2e2e2e" stroke-width="1.1"/>
<line x1="265.20" y1="269.50" x2="262.00" y2="269.50" stroke="#2e2e2e" stroke-width="1.1"/>
<line x1="30.80" y1="255.50" x2="32.60" y2="255.50" stroke="#2e2e2e" stroke-width="1.1"/>
<line x1="265.20" y1="255.50" x2="263.40" y2="255.50" stroke="#2e2e2e" stroke-width="1.1"/>
<line x1="30.80" y1="240.50" x2="34.00" y2="240.50" stroke="#2e2e2e" stroke-width="1.1"/>
<line x1="265.20" y1="240.50" x2="262.00" y2="240.50" stroke="#2e2e2e" stroke-width="1.1"/>
<line x1="30.80" y1="225.50" x2="32.60" y2="225.50" stroke="#2e2e2e" stroke-width="1.1"/>
<line x1="265.20" y1="225.50" x2="263.40" y2="225.50" stroke="#2e2e2e" stroke-width="1.1"/>
<rect x="30.80" y="212.40" width="234.40" height="175.00" fill="none" stroke="#2e2e2e" stroke-width="1.35"/>
<text x="27.30" y="389.90" font-size="7.70" text-anchor="end" class="k">0.0</text>
<text x="27.30" y="360.49" font-size="7.70" text-anchor="end" class="k">0.2</text>
<text x="27.30" y="331.08" font-size="7.70" text-anchor="end" class="k">0.4</text>
<text x="27.30" y="301.66" font-size="7.70" text-anchor="end" class="k">0.6</text>
<text x="27.30" y="272.25" font-size="7.70" text-anchor="end" class="k">0.8</text>
<text x="27.30" y="242.84" font-size="7.70" text-anchor="end" class="k">1.0</text>
<text x="48.83" y="397.20" font-size="7.70" text-anchor="middle" class="k">1</text>
<text x="66.86" y="397.20" font-size="7.70" text-anchor="middle" class="k">2</text>
<text x="84.89" y="397.20" font-size="7.70" text-anchor="middle" class="k">3</text>
<text x="102.92" y="397.20" font-size="7.70" text-anchor="middle" class="k">4</text>
<text x="120.95" y="397.20" font-size="7.70" text-anchor="middle" class="k">5</text>
<text x="138.98" y="397.20" font-size="7.70" text-anchor="middle" class="k">6</text>
<text x="157.02" y="397.20" font-size="7.70" text-anchor="middle" class="k">7</text>
<text x="175.05" y="397.20" font-size="7.70" text-anchor="middle" class="k">8</text>
<text x="193.08" y="397.20" font-size="7.70" text-anchor="middle" class="k">9</text>
<text x="211.11" y="397.20" font-size="7.70" text-anchor="middle" class="k">10</text>
<text x="229.14" y="397.20" font-size="7.70" text-anchor="middle" class="k">11</text>
<text x="247.17" y="397.20" font-size="7.70" text-anchor="middle" class="k">12</text>
<text x="148.00" y="408.60" font-size="10.50" text-anchor="middle" class="t">Group</text>
<text x="14.10" y="299.50" font-size="10.50" text-anchor="middle" class="t" transform="rotate(-90 14.10 299.50)">Precision</text>
<rect x="173.50" y="216.10" width="88.00" height="22.3" fill="#fff" stroke="#c8c8c8" stroke-width="0.8"/>
<rect x="174.80" y="218.20" width="19" height="8.6" fill="#8e2a2f"/>
<rect x="174.80" y="228.90" width="19" height="8.4" fill="url(#bg)"/>
<text x="196.70" y="225.70" font-size="8.25">Initial Matching</text>
<text x="196.70" y="236.10" font-size="8.25">Accurate Matching</text>
<line x1="318.22" y1="212.40" x2="318.22" y2="387.40" stroke="#ececec" stroke-width="0.6"/>
<line x1="327.23" y1="212.40" x2="327.23" y2="387.40" stroke="#ececec" stroke-width="0.6"/>
<line x1="336.25" y1="212.40" x2="336.25" y2="387.40" stroke="#ececec" stroke-width="0.6"/>
<line x1="345.26" y1="212.40" x2="345.26" y2="387.40" stroke="#ececec" stroke-width="0.6"/>
<line x1="354.28" y1="212.40" x2="354.28" y2="387.40" stroke="#ececec" stroke-width="0.6"/>
<line x1="363.29" y1="212.40" x2="363.29" y2="387.40" stroke="#ececec" stroke-width="0.6"/>
<line x1="372.31" y1="212.40" x2="372.31" y2="387.40" stroke="#ececec" stroke-width="0.6"/>
<line x1="381.32" y1="212.40" x2="381.32" y2="387.40" stroke="#ececec" stroke-width="0.6"/>
<line x1="390.34" y1="212.40" x2="390.34" y2="387.40" stroke="#ececec" stroke-width="0.6"/>
<line x1="399.35" y1="212.40" x2="399.35" y2="387.40" stroke="#ececec" stroke-width="0.6"/>
<line x1="408.37" y1="212.40" x2="408.37" y2="387.40" stroke="#ececec" stroke-width="0.6"/>
<line x1="417.38" y1="212.40" x2="417.38" y2="387.40" stroke="#ececec" stroke-width="0.6"/>
<line x1="426.40" y1="212.40" x2="426.40" y2="387.40" stroke="#ececec" stroke-width="0.6"/>
<line x1="435.42" y1="212.40" x2="435.42" y2="387.40" stroke="#ececec" stroke-width="0.6"/>
<line x1="444.43" y1="212.40" x2="444.43" y2="387.40" stroke="#ececec" stroke-width="0.6"/>
<line x1="453.45" y1="212.40" x2="453.45" y2="387.40" stroke="#ececec" stroke-width="0.6"/>
<line x1="462.46" y1="212.40" x2="462.46" y2="387.40" stroke="#ececec" stroke-width="0.6"/>
<line x1="471.48" y1="212.40" x2="471.48" y2="387.40" stroke="#ececec" stroke-width="0.6"/>
<line x1="480.49" y1="212.40" x2="480.49" y2="387.40" stroke="#ececec" stroke-width="0.6"/>
<line x1="489.51" y1="212.40" x2="489.51" y2="387.40" stroke="#ececec" stroke-width="0.6"/>
<line x1="498.52" y1="212.40" x2="498.52" y2="387.40" stroke="#ececec" stroke-width="0.6"/>
<line x1="507.54" y1="212.40" x2="507.54" y2="387.40" stroke="#ececec" stroke-width="0.6"/>
<line x1="516.55" y1="212.40" x2="516.55" y2="387.40" stroke="#ececec" stroke-width="0.6"/>
<line x1="525.57" y1="212.40" x2="525.57" y2="387.40" stroke="#ececec" stroke-width="0.6"/>
<line x1="534.58" y1="212.40" x2="534.58" y2="387.40" stroke="#ececec" stroke-width="0.6"/>
<line x1="309.20" y1="377.11" x2="543.60" y2="377.11" stroke="#ececec" stroke-width="0.6"/>
<line x1="309.20" y1="366.81" x2="543.60" y2="366.81" stroke="#ececec" stroke-width="0.6"/>
<line x1="309.20" y1="356.52" x2="543.60" y2="356.52" stroke="#ececec" stroke-width="0.6"/>
<line x1="309.20" y1="346.22" x2="543.60" y2="346.22" stroke="#ececec" stroke-width="0.6"/>
<line x1="309.20" y1="335.93" x2="543.60" y2="335.93" stroke="#ececec" stroke-width="0.6"/>
<line x1="309.20" y1="325.64" x2="543.60" y2="325.64" stroke="#ececec" stroke-width="0.6"/>
<line x1="309.20" y1="315.34" x2="543.60" y2="315.34" stroke="#ececec" stroke-width="0.6"/>
<line x1="309.20" y1="305.05" x2="543.60" y2="305.05" stroke="#ececec" stroke-width="0.6"/>
<line x1="309.20" y1="294.75" x2="543.60" y2="294.75" stroke="#ececec" stroke-width="0.6"/>
<line x1="309.20" y1="284.46" x2="543.60" y2="284.46" stroke="#ececec" stroke-width="0.6"/>
<line x1="309.20" y1="274.16" x2="543.60" y2="274.16" stroke="#ececec" stroke-width="0.6"/>
<line x1="309.20" y1="263.87" x2="543.60" y2="263.87" stroke="#ececec" stroke-width="0.6"/>
<line x1="309.20" y1="253.58" x2="543.60" y2="253.58" stroke="#ececec" stroke-width="0.6"/>
<line x1="309.20" y1="243.28" x2="543.60" y2="243.28" stroke="#ececec" stroke-width="0.6"/>
<line x1="309.20" y1="232.99" x2="543.60" y2="232.99" stroke="#ececec" stroke-width="0.6"/>
<line x1="309.20" y1="222.69" x2="543.60" y2="222.69" stroke="#ececec" stroke-width="0.6"/>
<rect x="319.42" y="372.16" width="7.81" height="15.24" fill="#8e2a2f"/>
<rect x="327.23" y="257.28" width="7.21" height="130.12" fill="url(#bg)"/>
<rect x="337.45" y="370.93" width="7.81" height="16.47" fill="#8e2a2f"/>
<rect x="345.26" y="266.75" width="7.21" height="120.65" fill="url(#bg)"/>
<rect x="355.48" y="366.81" width="7.81" height="20.59" fill="#8e2a2f"/>
<rect x="363.29" y="279.93" width="7.21" height="107.47" fill="url(#bg)"/>
<rect x="373.51" y="365.99" width="7.81" height="21.41" fill="#8e2a2f"/>
<rect x="381.32" y="284.87" width="7.21" height="102.53" fill="url(#bg)"/>
<rect x="391.54" y="358.58" width="7.81" height="28.82" fill="#8e2a2f"/>
<rect x="399.35" y="227.64" width="7.21" height="159.76" fill="url(#bg)"/>
<rect x="409.57" y="376.28" width="7.81" height="11.12" fill="#8e2a2f"/>
<rect x="417.38" y="331.40" width="7.21" height="56.00" fill="url(#bg)"/>
<rect x="427.60" y="354.46" width="7.81" height="32.94" fill="#8e2a2f"/>
<rect x="435.42" y="330.58" width="7.21" height="56.82" fill="url(#bg)"/>
<rect x="445.63" y="358.58" width="7.81" height="28.82" fill="#8e2a2f"/>
<rect x="453.45" y="309.16" width="7.21" height="78.24" fill="url(#bg)"/>
<rect x="463.66" y="330.58" width="7.81" height="56.82" fill="#8e2a2f"/>
<rect x="471.48" y="332.22" width="7.21" height="55.18" fill="url(#bg)"/>
<rect x="481.70" y="374.22" width="7.81" height="13.18" fill="#8e2a2f"/>
<rect x="489.51" y="333.05" width="7.21" height="54.35" fill="url(#bg)"/>
<rect x="499.73" y="377.11" width="7.81" height="10.29" fill="#8e2a2f"/>
<rect x="507.54" y="344.58" width="7.21" height="42.82" fill="url(#bg)"/>
<rect x="517.76" y="385.34" width="7.81" height="2.06" fill="#8e2a2f"/>
<rect x="525.57" y="345.40" width="7.21" height="42.00" fill="url(#bg)"/>
<line x1="327.23" y1="212.40" x2="327.23" y2="215.60" stroke="#2e2e2e" stroke-width="1.4"/>
<line x1="327.23" y1="387.40" x2="327.23" y2="384.20" stroke="#2e2e2e" stroke-width="1.4"/>
<line x1="345.26" y1="212.40" x2="345.26" y2="215.60" stroke="#2e2e2e" stroke-width="1.4"/>
<line x1="345.26" y1="387.40" x2="345.26" y2="384.20" stroke="#2e2e2e" stroke-width="1.4"/>
<line x1="363.29" y1="212.40" x2="363.29" y2="215.60" stroke="#2e2e2e" stroke-width="1.4"/>
<line x1="363.29" y1="387.40" x2="363.29" y2="384.20" stroke="#2e2e2e" stroke-width="1.4"/>
<line x1="381.32" y1="212.40" x2="381.32" y2="215.60" stroke="#2e2e2e" stroke-width="1.4"/>
<line x1="381.32" y1="387.40" x2="381.32" y2="384.20" stroke="#2e2e2e" stroke-width="1.4"/>
<line x1="399.35" y1="212.40" x2="399.35" y2="215.60" stroke="#2e2e2e" stroke-width="1.4"/>
<line x1="399.35" y1="387.40" x2="399.35" y2="384.20" stroke="#2e2e2e" stroke-width="1.4"/>
<line x1="417.38" y1="212.40" x2="417.38" y2="215.60" stroke="#2e2e2e" stroke-width="1.4"/>
<line x1="417.38" y1="387.40" x2="417.38" y2="384.20" stroke="#2e2e2e" stroke-width="1.4"/>
<line x1="435.42" y1="212.40" x2="435.42" y2="215.60" stroke="#2e2e2e" stroke-width="1.4"/>
<line x1="435.42" y1="387.40" x2="435.42" y2="384.20" stroke="#2e2e2e" stroke-width="1.4"/>
<line x1="453.45" y1="212.40" x2="453.45" y2="215.60" stroke="#2e2e2e" stroke-width="1.4"/>
<line x1="453.45" y1="387.40" x2="453.45" y2="384.20" stroke="#2e2e2e" stroke-width="1.4"/>
<line x1="471.48" y1="212.40" x2="471.48" y2="215.60" stroke="#2e2e2e" stroke-width="1.4"/>
<line x1="471.48" y1="387.40" x2="471.48" y2="384.20" stroke="#2e2e2e" stroke-width="1.4"/>
<line x1="489.51" y1="212.40" x2="489.51" y2="215.60" stroke="#2e2e2e" stroke-width="1.4"/>
<line x1="489.51" y1="387.40" x2="489.51" y2="384.20" stroke="#2e2e2e" stroke-width="1.4"/>
<line x1="507.54" y1="212.40" x2="507.54" y2="215.60" stroke="#2e2e2e" stroke-width="1.4"/>
<line x1="507.54" y1="387.40" x2="507.54" y2="384.20" stroke="#2e2e2e" stroke-width="1.4"/>
<line x1="525.57" y1="212.40" x2="525.57" y2="215.60" stroke="#2e2e2e" stroke-width="1.4"/>
<line x1="525.57" y1="387.40" x2="525.57" y2="384.20" stroke="#2e2e2e" stroke-width="1.4"/>
<line x1="309.20" y1="377.50" x2="311.00" y2="377.50" stroke="#2e2e2e" stroke-width="1.1"/>
<line x1="543.60" y1="377.50" x2="541.80" y2="377.50" stroke="#2e2e2e" stroke-width="1.1"/>
<line x1="309.20" y1="366.50" x2="312.40" y2="366.50" stroke="#2e2e2e" stroke-width="1.1"/>
<line x1="543.60" y1="366.50" x2="540.40" y2="366.50" stroke="#2e2e2e" stroke-width="1.1"/>
<line x1="309.20" y1="356.50" x2="311.00" y2="356.50" stroke="#2e2e2e" stroke-width="1.1"/>
<line x1="543.60" y1="356.50" x2="541.80" y2="356.50" stroke="#2e2e2e" stroke-width="1.1"/>
<line x1="309.20" y1="346.50" x2="312.40" y2="346.50" stroke="#2e2e2e" stroke-width="1.1"/>
<line x1="543.60" y1="346.50" x2="540.40" y2="346.50" stroke="#2e2e2e" stroke-width="1.1"/>
<line x1="309.20" y1="335.50" x2="311.00" y2="335.50" stroke="#2e2e2e" stroke-width="1.1"/>
<line x1="543.60" y1="335.50" x2="541.80" y2="335.50" stroke="#2e2e2e" stroke-width="1.1"/>
<line x1="309.20" y1="325.50" x2="312.40" y2="325.50" stroke="#2e2e2e" stroke-width="1.1"/>
<line x1="543.60" y1="325.50" x2="540.40" y2="325.50" stroke="#2e2e2e" stroke-width="1.1"/>
<line x1="309.20" y1="315.50" x2="311.00" y2="315.50" stroke="#2e2e2e" stroke-width="1.1"/>
<line x1="543.60" y1="315.50" x2="541.80" y2="315.50" stroke="#2e2e2e" stroke-width="1.1"/>
<line x1="309.20" y1="305.50" x2="312.40" y2="305.50" stroke="#2e2e2e" stroke-width="1.1"/>
<line x1="543.60" y1="305.50" x2="540.40" y2="305.50" stroke="#2e2e2e" stroke-width="1.1"/>
<line x1="309.20" y1="294.50" x2="311.00" y2="294.50" stroke="#2e2e2e" stroke-width="1.1"/>
<line x1="543.60" y1="294.50" x2="541.80" y2="294.50" stroke="#2e2e2e" stroke-width="1.1"/>
<line x1="309.20" y1="284.50" x2="312.40" y2="284.50" stroke="#2e2e2e" stroke-width="1.1"/>
<line x1="543.60" y1="284.50" x2="540.40" y2="284.50" stroke="#2e2e2e" stroke-width="1.1"/>
<line x1="309.20" y1="274.50" x2="311.00" y2="274.50" stroke="#2e2e2e" stroke-width="1.1"/>
<line x1="543.60" y1="274.50" x2="541.80" y2="274.50" stroke="#2e2e2e" stroke-width="1.1"/>
<line x1="309.20" y1="263.50" x2="312.40" y2="263.50" stroke="#2e2e2e" stroke-width="1.1"/>
<line x1="543.60" y1="263.50" x2="540.40" y2="263.50" stroke="#2e2e2e" stroke-width="1.1"/>
<line x1="309.20" y1="253.50" x2="311.00" y2="253.50" stroke="#2e2e2e" stroke-width="1.1"/>
<line x1="543.60" y1="253.50" x2="541.80" y2="253.50" stroke="#2e2e2e" stroke-width="1.1"/>
<line x1="309.20" y1="243.50" x2="312.40" y2="243.50" stroke="#2e2e2e" stroke-width="1.1"/>
<line x1="543.60" y1="243.50" x2="540.40" y2="243.50" stroke="#2e2e2e" stroke-width="1.1"/>
<line x1="309.20" y1="232.50" x2="311.00" y2="232.50" stroke="#2e2e2e" stroke-width="1.1"/>
<line x1="543.60" y1="232.50" x2="541.80" y2="232.50" stroke="#2e2e2e" stroke-width="1.1"/>
<line x1="309.20" y1="222.50" x2="312.40" y2="222.50" stroke="#2e2e2e" stroke-width="1.1"/>
<line x1="543.60" y1="222.50" x2="540.40" y2="222.50" stroke="#2e2e2e" stroke-width="1.1"/>
<rect x="309.20" y="212.40" width="234.40" height="175.00" fill="none" stroke="#2e2e2e" stroke-width="1.35"/>
<text x="305.70" y="389.90" font-size="7.70" text-anchor="end" class="k">0.00</text>
<text x="305.70" y="369.31" font-size="7.70" text-anchor="end" class="k">0.05</text>
<text x="305.70" y="348.72" font-size="7.70" text-anchor="end" class="k">0.10</text>
<text x="305.70" y="328.14" font-size="7.70" text-anchor="end" class="k">0.15</text>
<text x="305.70" y="307.55" font-size="7.70" text-anchor="end" class="k">0.20</text>
<text x="305.70" y="286.96" font-size="7.70" text-anchor="end" class="k">0.25</text>
<text x="305.70" y="266.37" font-size="7.70" text-anchor="end" class="k">0.30</text>
<text x="305.70" y="245.78" font-size="7.70" text-anchor="end" class="k">0.35</text>
<text x="305.70" y="225.19" font-size="7.70" text-anchor="end" class="k">0.40</text>
<text x="327.23" y="397.20" font-size="7.70" text-anchor="middle" class="k">1</text>
<text x="345.26" y="397.20" font-size="7.70" text-anchor="middle" class="k">2</text>
<text x="363.29" y="397.20" font-size="7.70" text-anchor="middle" class="k">3</text>
<text x="381.32" y="397.20" font-size="7.70" text-anchor="middle" class="k">4</text>
<text x="399.35" y="397.20" font-size="7.70" text-anchor="middle" class="k">5</text>
<text x="417.38" y="397.20" font-size="7.70" text-anchor="middle" class="k">6</text>
<text x="435.42" y="397.20" font-size="7.70" text-anchor="middle" class="k">7</text>
<text x="453.45" y="397.20" font-size="7.70" text-anchor="middle" class="k">8</text>
<text x="471.48" y="397.20" font-size="7.70" text-anchor="middle" class="k">9</text>
<text x="489.51" y="397.20" font-size="7.70" text-anchor="middle" class="k">10</text>
<text x="507.54" y="397.20" font-size="7.70" text-anchor="middle" class="k">11</text>
<text x="525.57" y="397.20" font-size="7.70" text-anchor="middle" class="k">12</text>
<text x="426.60" y="408.60" font-size="10.50" text-anchor="middle" class="t">Group</text>
<text x="288.40" y="299.50" font-size="10.50" text-anchor="middle" class="t" transform="rotate(-90 288.40 299.50)">Recall</text>
<rect x="452.60" y="218.00" width="87.40" height="22.3" fill="#fff" stroke="#c8c8c8" stroke-width="0.8"/>
<rect x="453.90" y="220.10" width="19" height="8.6" fill="#8e2a2f"/>
<rect x="453.90" y="230.80" width="19" height="8.4" fill="url(#bg)"/>
<text x="475.80" y="227.60" font-size="8.25">Initial Matching</text>
<text x="475.80" y="238.00" font-size="8.25">Accurate Matching</text>
</svg>
</body></html>
